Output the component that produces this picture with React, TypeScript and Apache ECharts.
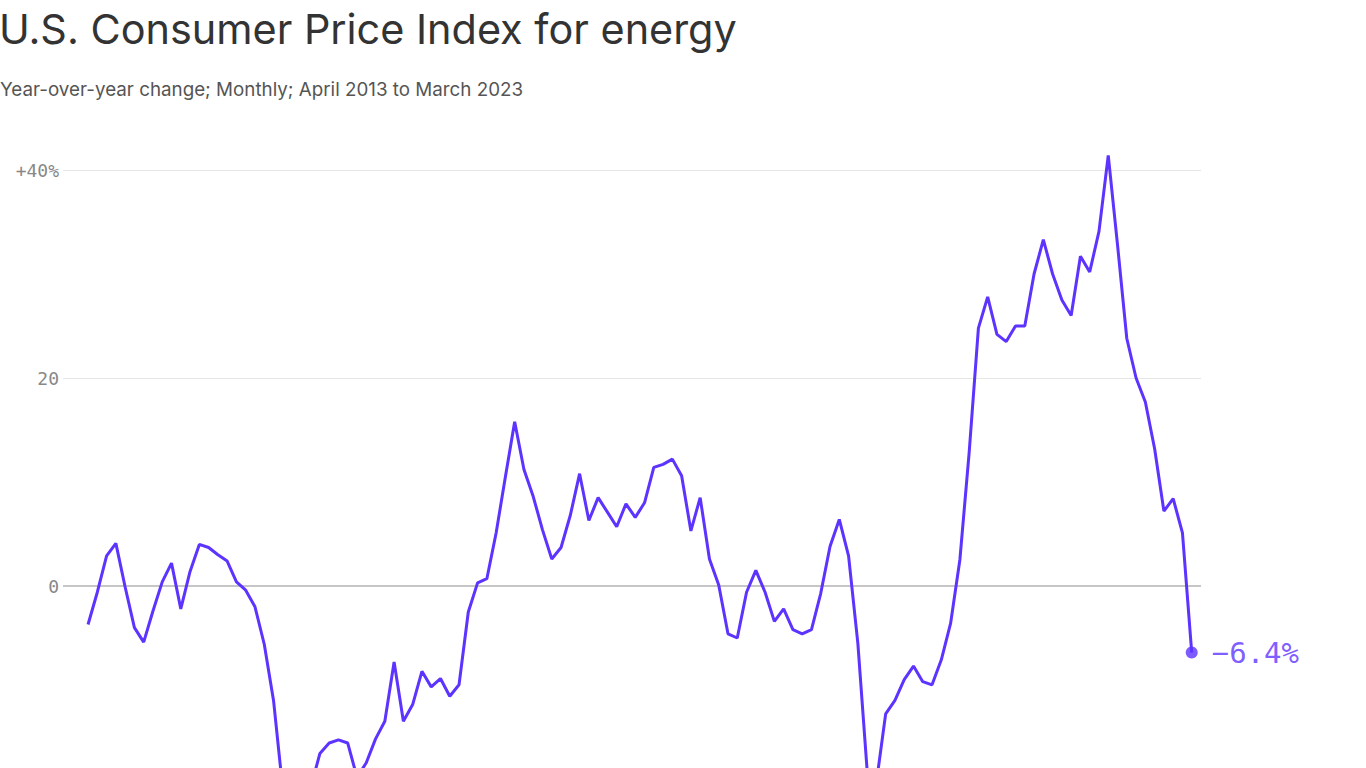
import React, { useEffect, useRef } from "react";
import * as echarts from "echarts";

const TITLE = "U.S. Consumer Price Index for energy";
const SUBTITLE = "Year-over-year change; Monthly; April 2013 to March 2023";

// April 2013 .. March 2023
const START_YEAR = 2013;
const START_MONTH = 3;
const months: string[] = [];
for (let i = 0; i < 120; i++) {
  const m = (START_MONTH + i) % 12;
  const y = START_YEAR + Math.floor((START_MONTH + i) / 12);
  months.push(`${y}-${String(m + 1).padStart(2, "0")}`);
}

// year-over-year change, %
const energyYoY = [
  -3.7, -0.6, 2.9, 4.1, -0.1, -4.0, -5.4, -2.4, 0.4, 2.2, -2.2, 1.4,
  4.0, 3.7, 3.0, 2.4, 0.4, -0.4, -2.0, -5.6, -11.0, -19.6, -18.8, -18.3,
  -19.4, -16.1, -15.1, -14.8, -15.1, -18.4, -17.0, -14.7, -13.0, -7.3, -13.0, -11.4,
  -8.2, -9.7, -8.9, -10.6, -9.5, -2.5, 0.3, 0.7, 5.1, 10.5, 15.8, 11.2,
  8.6, 5.4, 2.6, 3.7, 6.8, 10.8, 6.3, 8.5, 7.1, 5.7, 7.9, 6.6,
  8.0, 11.4, 11.7, 12.2, 10.6, 5.3, 8.5, 2.6, 0.1, -4.6, -5.0, -0.6,
  1.5, -0.6, -3.4, -2.2, -4.2, -4.6, -4.2, -0.7, 3.8, 6.4, 2.9, -5.5,
  -17.7, -18.9, -12.3, -11.0, -9.0, -7.7, -9.2, -9.5, -7.1, -3.6, 2.5, 12.8,
  24.8, 27.8, 24.2, 23.5, 25.0, 25.0, 30.0, 33.3, 30.0, 27.5, 26.0, 31.7,
  30.2, 34.1, 41.4, 32.8, 23.8, 20.0, 17.7, 13.2, 7.2, 8.4, 5.1, -6.4,
];

const yTicks = [-20, 0, 20, 40];

const PURPLE = "#5c33ff";
const MONO = "'DejaVu Sans Mono', 'Liberation Mono', monospace";

const App: React.FC = () => {
  const chartRef = useRef<HTMLDivElement | null>(null);

  useEffect(() => {
    if (!chartRef.current) return;
    const chart = echarts.init(chartRef.current, undefined, { renderer: "svg" });
    const lastIdx = energyYoY.length - 1;
    const lastVal = energyYoY[lastIdx];

    chart.setOption({
      animation: false,
      title: [
        {
          text: TITLE,
          left: -1,
          top: 8,
          padding: 0,
          textStyle: { fontFamily: "Inter", fontSize: 41.4, fontWeight: "normal", color: "#333" },
        },
        {
          text: SUBTITLE,
          left: 0,
          top: 80,
          padding: 0,
          textStyle: { fontFamily: "Inter", fontSize: 18.8, fontWeight: "normal", color: "#555" },
        },
      ],
      grid: { left: 63, right: 165, top: 170, bottom: 6 },
      xAxis: {
        type: "value",
        min: -2.7,
        max: 120,
        show: false,
      },
      yAxis: [
        {
          type: "value",
          min: yTicks[0],
          max: yTicks[yTicks.length - 1],
          interval: 20,
          axisLine: { show: false },
          axisTick: { show: false },
          axisLabel: {
            color: "#888",
            fontFamily: MONO,
            fontSize: 18,
            margin: 4,
            formatter: (v: number) => (v === 40 ? "+40%" : v < 0 ? "" : String(v)),
          },
          splitLine: {
            lineStyle: { color: ["transparent", "transparent", "#e6e6e6", "#e6e6e6"], width: 1 },
          },
        },
        {
          type: "value",
          min: yTicks[0],
          max: yTicks[yTicks.length - 1],
          interval: 20,
          position: "left",
          axisLine: { show: false },
          axisTick: { show: false },
          axisLabel: { show: false },
          splitLine: {
            lineStyle: { color: ["transparent", "#b3b3b3", "transparent", "transparent"], width: 1.6 },
          },
        },
      ],
      series: [
        {
          type: "line",
          data: energyYoY.map((v, i) => [i, v]),
          showSymbol: false,
          clip: false,
          lineStyle: { color: PURPLE, width: 3 },
          z: 3,
        },
        {
          type: "scatter",
          data: [[lastIdx, lastVal]],
          symbol: "circle",
          symbolSize: 12,
          itemStyle: { color: PURPLE },
          label: {
            show: true,
            position: "right",
            distance: 14,
            formatter: () => `${lastVal < 0 ? "\u2212" : "+"}${Math.abs(lastVal)}%`,
            color: PURPLE,
            fontFamily: MONO,
            fontSize: 29,
          },
          z: 4,
        },
      ],
    });

    return () => {
      chart.dispose();
    };
  }, []);

  return (
    <div
      ref={chartRef}
      style={{ position: "fixed", left: 0, top: 0, width: 1366, height: 800, background: "#fff" }}
    />
  );
};

export default App;
